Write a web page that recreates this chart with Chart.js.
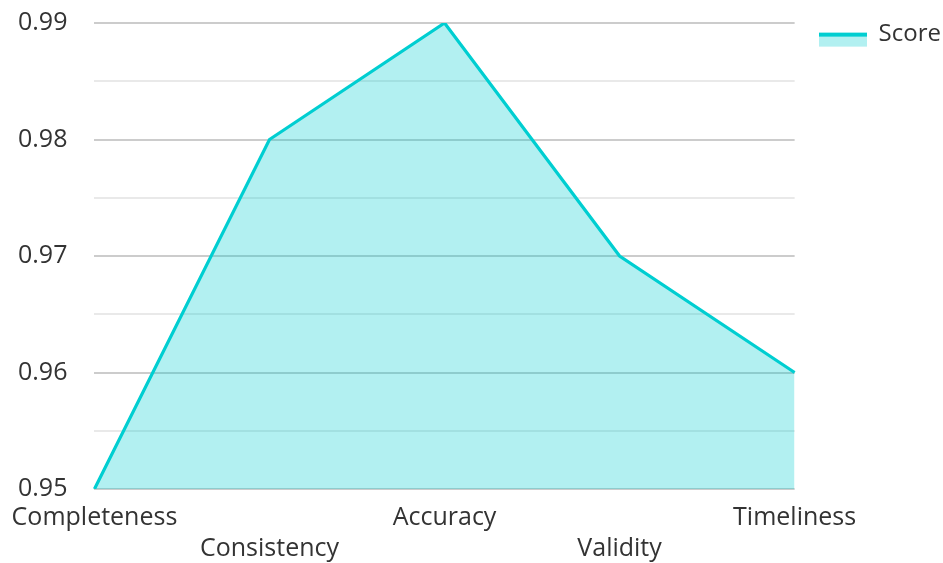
<!DOCTYPE html>
<html>
<head>
<meta charset="utf-8">
<script src="https://cdn.jsdelivr.net/npm/chart.js@4/dist/chart.umd.min.js"></script>
<style>
  html, body { margin: 0; padding: 0; background: #fff; }
  #wrap { width: 943px; height: 563px; }
</style>
</head>
<body>
<div id="wrap"><canvas id="chart"></canvas></div>
<script>
// Data quality scores
const categories = ["Completeness", "Consistency", "Accuracy", "Validity", "Timeliness"];
const scores = [0.95, 0.98, 0.99, 0.97, 0.96];
const seriesName = "Score";
const yMin = 0.95;
const yMax = 0.99;

const lineColor = "rgb(0, 206, 209)";
const fillColor = "rgba(0, 206, 209, 0.3)";

// Legend swatch: thick line on top, light fill below (transparent top half to sit lower)
const swatch = document.createElement("canvas");
swatch.width = 48;
swatch.height = 28;
const sctx = swatch.getContext("2d");
sctx.fillStyle = fillColor;
sctx.fillRect(0, 12, 48, 14);
sctx.fillStyle = lineColor;
sctx.fillRect(0, 12, 48, 4);

Chart.defaults.font.family = "'Open Sans', sans-serif";
Chart.defaults.color = "#333";

new Chart(document.getElementById("chart").getContext("2d"), {
  type: "line",
  data: {
    labels: categories,
    datasets: [{
      label: seriesName,
      data: scores,
      borderColor: lineColor,
      backgroundColor: fillColor,
      borderWidth: 3.2,
      fill: "origin",
      tension: 0,
      pointRadius: 0,
      pointStyle: swatch,
    }],
  },
  options: {
    responsive: true,
    maintainAspectRatio: false,
    animation: false,
    layout: { padding: { top: 7, right: -8, left: 10, bottom: -2 } },
    plugins: {
      legend: {
        position: "right",
        align: "start",
        title: { display: true, text: " ", padding: 0, font: { size: 13 } },
        labels: {
          usePointStyle: true,
          pointStyleWidth: 48,
          boxHeight: 14,
          padding: 0,
          font: { size: 24 },
          color: "#333",
        },
      },
      tooltip: { enabled: false },
    },
    scales: {
      x: {
        offset: false,
        grid: { display: false, drawTicks: true, tickLength: 13 },
        border: { display: false },
        ticks: {
          autoSkip: false,
          maxRotation: 0,
          padding: 0,
          font: { size: 25, lineHeight: 1.26 },
          color: "#333",
          callback: (val, i) => (i % 2 === 1 ? ["", categories[i]] : categories[i]),
        },
      },
      y: {
        min: yMin,
        max: yMax,
        border: { display: false },
        grid: {
          drawTicks: true,
          tickLength: 19,
          tickColor: "rgba(0,0,0,0)",
          lineWidth: 2,
          color: (ctx) => (ctx.index % 2 === 0 ? "#cccccc" : "#e9e9e9"),
        },
        ticks: {
          stepSize: 0.005,
          padding: 8,
          font: { size: 25 },
          color: "#333",
          callback: (val) => (Math.round(val * 1000) % 10 === 0 ? val.toFixed(2) : ""),
        },
      },
      // empty spacer between plot and legend
      y2: {
        type: "linear",
        position: "right",
        grid: { display: false, drawTicks: false },
        border: { display: false },
        ticks: { display: false },
        afterFit: (scale) => { scale.width = 24; },
      },
    },
  },
});
</script>
</body>
</html>
